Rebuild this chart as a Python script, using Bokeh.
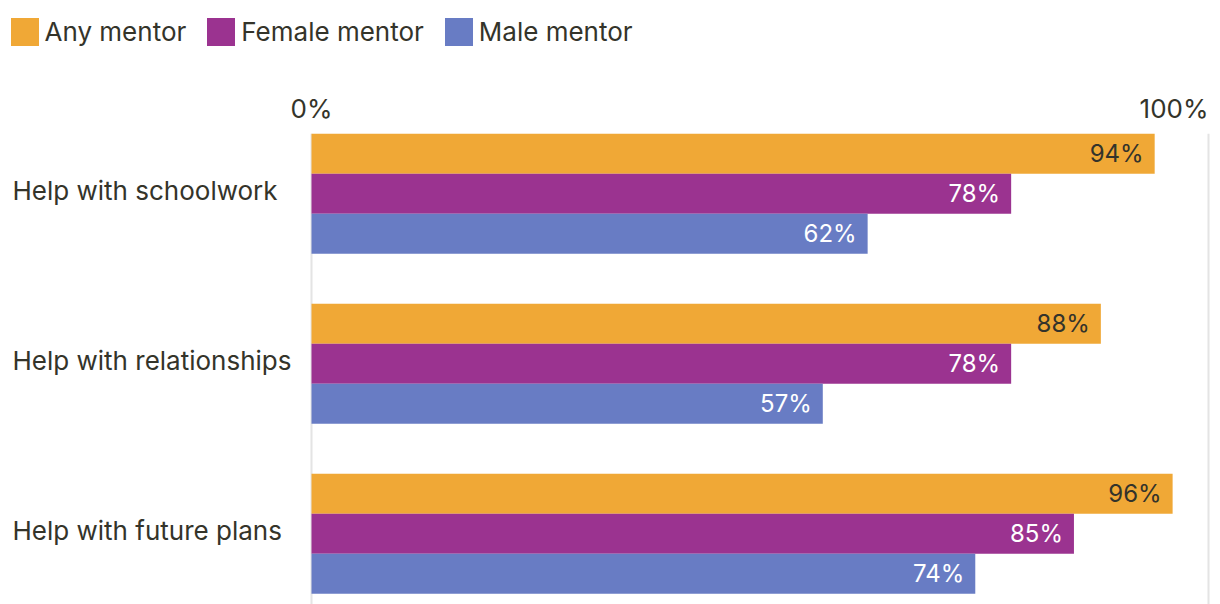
from bokeh.plotting import figure
from bokeh.models import Range1d, ColumnDataSource, Legend, LegendItem
from bokeh.core.properties import value
from bokeh.embed import file_html
from bokeh.resources import INLINE

categories = ["Help with schoolwork", "Help with relationships", "Help with future plans"]
series = ["Any mentor", "Female mentor", "Male mentor"]
any_mentor = [94, 88, 96]
female_mentor = [78, 78, 85]
male_mentor = [62, 57, 74]
values = [any_mentor, female_mentor, male_mentor]
colors = ["#F0A836", "#9B3390", "#687CC4"]
label_colors = ["#33332b", "#ffffff", "#ffffff"]
ticks = [0, 100]
tick_labels = ["0%", "100%"]

FONT = "Inter"
TXT = "#34342a"
W, H = 1220, 604
PX = 8.97      # pixels per percentage point
X0 = 311       # pixel of 0%
BAR = 40       # pixels per bar
TOP = 3.33     # first bar top, in bar units
GROUP = 4.25   # group pitch, in bar units

p = figure(width=W, height=H, output_backend="svg", toolbar_location=None,
           x_range=Range1d(-X0 / PX, (W - X0) / PX), y_range=Range1d(H / BAR, 0),
           x_axis_location=None, y_axis_location=None, min_border=0)
p.grid.visible = False
p.outline_line_color = None
p.background_fill_color = "white"

# vertical grid lines
p.segment(x0=ticks, x1=ticks, y0=[TOP] * 2, y1=[H / BAR] * 2, line_color="#e4e4e4", line_width=2)

items = []
for j, (name, vals) in enumerate(zip(series, values)):
    ys = [TOP + i * GROUP + 0.5 + j for i in range(len(categories))]
    src = ColumnDataSource(dict(y=ys, v=vals, lab=[f"{v}%" for v in vals]))
    r = p.hbar(y="y", left=0, right="v", height=1, source=src, fill_color=colors[j], line_color=None)
    items.append(LegendItem(label=name, renderers=[r]))
    p.text(x="v", y="y", text="lab", source=src, x_offset=-11, text_align="right", text_baseline="middle",
           text_font=value(FONT), text_font_size="24px", text_color=label_colors[j])

# category labels
cy = [TOP + i * GROUP + 1.5 for i in range(len(categories))]
p.text(x=[-X0 / PX + 12 / PX] * 3, y=cy, text=categories, text_align="left", text_baseline="middle",
       y_offset=-3, text_font=value(FONT), text_font_size="26px", text_color=TXT)

# top tick labels
p.text(x=ticks, y=[108 / BAR] * 2, text=tick_labels, text_align=["center", "right"], text_baseline="middle",
       text_font=value(FONT), text_font_size="26px", text_color=TXT)

legend = Legend(items=items, orientation="horizontal", location=(6.5, H - 48.5),
                glyph_width=35, glyph_height=35, label_standoff=3, spacing=17, padding=0, margin=0,
                label_text_font=FONT, label_text_font_size="26px", label_text_color=TXT,
                border_line_color=None, background_fill_alpha=0, label_height=35)
p.add_layout(legend, "center")

open("out.html", "w").write(file_html(p, INLINE))
